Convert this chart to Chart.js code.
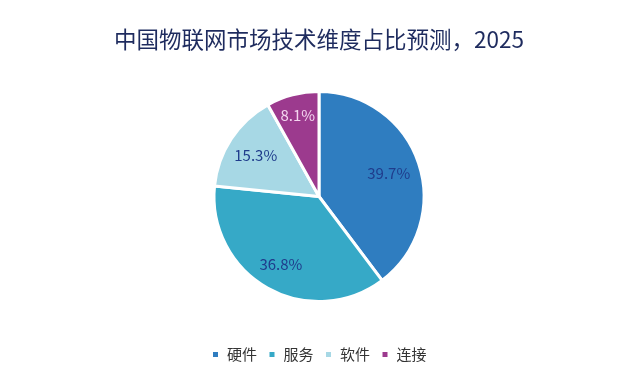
<!DOCTYPE html>
<html>
<head>
<meta charset="utf-8">
<script src="https://cdn.jsdelivr.net/npm/chart.js@4/dist/chart.umd.min.js"></script>
<style>
  html, body { margin: 0; padding: 0; background: #fff; }
  #wrap { width: 626px; height: 378px; position: relative; }
</style>
</head>
<body>
<div id="wrap"><canvas id="c"></canvas></div>
<script>
const categories = ['硬件', '服务', '软件', '连接'];
const shares = [39.7, 36.8, 15.3, 8.1];
const colors = ['#2F7DC0', '#36A9C7', '#A7D8E5', '#9C3A8E'];
const labelColors = ['#1F3C8C', '#1F3C8C', '#1F3C8C', '#F4D6F0'];
// how far out each % label sits, as a fraction of the radius
const labelRadius = [0.7, 0.74, 0.72, 0.8];

const FONT = '"Noto Sans CJK SC", "Noto Sans", sans-serif';

const sliceLabels = {
  id: 'sliceLabels',
  afterDatasetsDraw(chart) {
    const { ctx } = chart;
    const meta = chart.getDatasetMeta(0);
    ctx.save();
    ctx.font = '15px ' + FONT;
    ctx.textAlign = 'center';
    ctx.textBaseline = 'middle';
    meta.data.forEach((arc, i) => {
      const mid = (arc.startAngle + arc.endAngle) / 2;
      const r = arc.outerRadius * labelRadius[i];
      ctx.fillStyle = labelColors[i];
      ctx.fillText(shares[i].toFixed(1) + '%', arc.x + Math.cos(mid) * r, arc.y + Math.sin(mid) * r);
    });
    ctx.restore();
  }
};

new Chart(document.getElementById('c'), {
  type: 'pie',
  data: {
    labels: categories,
    datasets: [{
      data: shares,
      backgroundColor: colors,
      borderColor: '#fff',
      borderWidth: 3,
    }],
  },
  options: {
    responsive: true,
    maintainAspectRatio: false,
    animation: false,
    radius: 105,
    layout: { padding: { top: 26, bottom: 6, left: 12, right: 0 } },
    plugins: {
      tooltip: { enabled: false },
      title: {
        display: true,
        text: '中国物联网市场技术维度占比预测，2025',
        color: '#1E2B5E',
        font: { family: FONT, size: 22.5, weight: 'normal' },
        padding: { top: 0, bottom: 4 },
      },
      legend: {
        position: 'bottom',
        labels: {
          color: '#333',
          font: { family: FONT, size: 15 },
          usePointStyle: true,
          pointStyle: 'rect',
          boxWidth: 8,
          boxHeight: 8,
          padding: 11,
        },
      },
    },
  },
  plugins: [sliceLabels],
});
</script>
</body>
</html>
